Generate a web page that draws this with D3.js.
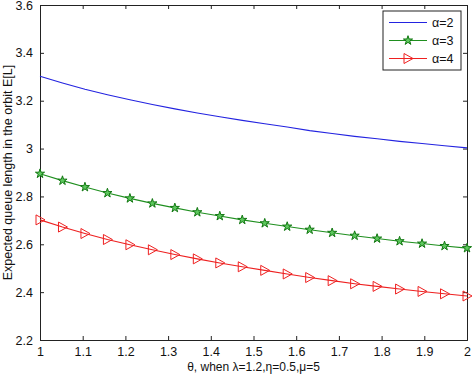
<!DOCTYPE html>
<html>
<head>
<meta charset="utf-8">
<script src="https://cdn.jsdelivr.net/npm/d3@7"></script>
<style>
  body { margin: 0; background: #fff; }
  text { font-family: "Liberation Sans", Arial, sans-serif; }
</style>
</head>
<body>
<div class="chart"></div>
<script>
// theta sampled at 20 points between 1 and 2
const theta = d3.range(20).map(k => 1 + k / 19)
const alpha2 = [3.302, 3.274, 3.248, 3.225, 3.204, 3.184, 3.166, 3.149, 3.133, 3.118,
                3.104, 3.090, 3.075, 3.063, 3.051, 3.041, 3.030, 3.021, 3.012, 3.003]
const alpha3 = [2.895, 2.866, 2.839, 2.814, 2.792, 2.771, 2.752, 2.734, 2.718, 2.702,
                2.688, 2.674, 2.661, 2.648, 2.636, 2.624, 2.613, 2.603, 2.593, 2.584]
const alpha4 = [2.702, 2.672, 2.645, 2.620, 2.598, 2.577, 2.557, 2.539, 2.522, 2.506,
                2.491, 2.476, 2.461, 2.448, 2.435, 2.424, 2.413, 2.403, 2.393, 2.384]
const x_ticks = [1, 1.1, 1.2, 1.3, 1.4, 1.5, 1.6, 1.7, 1.8, 1.9, 2]
const y_ticks = [2.2, 2.4, 2.6, 2.8, 3, 3.2, 3.4, 3.6]
const legend_labels = ["\u03b1=2", "\u03b1=3", "\u03b1=4"]

const width = 474, height = 375
const m = {left: 40, top: 5, right: 7, bottom: 35}
const svg = d3.select(".chart").append("svg").attr("width", width).attr("height", height)

const x_scale = d3.scaleLinear().domain([1, 2]).range([m.left, width - m.right])
const y_scale = d3.scaleLinear().domain([2.2, 3.6]).range([height - m.bottom, m.top])

const fmt = d => String(d)
// axes with inward ticks
svg.append("g").attr("transform", 'translate(0,' + (height - m.bottom) + ')')
    .call(d3.axisBottom(x_scale).tickValues(x_ticks).tickSize(-4).tickPadding(7).tickFormat(fmt))
svg.append("g").attr("transform", 'translate(0,' + m.top + ')')
    .call(d3.axisTop(x_scale).tickValues(x_ticks).tickSize(-4).tickFormat(""))
svg.append("g").attr("transform", 'translate(' + m.left + ',0)')
    .call(d3.axisLeft(y_scale).tickValues(y_ticks).tickSize(-4).tickPadding(7).tickFormat(fmt))
svg.append("g").attr("transform", 'translate(' + (width - m.right) + ',0)')
    .call(d3.axisRight(y_scale).tickValues(y_ticks).tickSize(-4).tickFormat(""))

svg.selectAll(".domain").attr("stroke", "#222")
svg.selectAll(".tick line").attr("stroke", "#222")
svg.selectAll(".tick text").attr("font-size", 12.5).attr("fill", "#111")
    .style("font-family", "'Liberation Sans', Arial, sans-serif")

const series = [
    {vals: alpha2, color: "#2323e0", marker: null},
    {vals: alpha3, color: "#1f8f1f", marker: "star"},
    {vals: alpha4, color: "#ee2020", marker: "tri"}
]

const line = d3.line().x(d => x_scale(d[0])).y(d => y_scale(d[1]))
const star = d3.symbol().type(d3.symbolStar).size(26)
const tri = "M-4,-5L5,0L-4,5Z"

function drawMarker(g, s, x, y) {
    if (s.marker == "star") {
        g.append("path").attr("d", star()).attr("transform", 'translate(' + x + ',' + y + ')')
            .attr("fill", "#5ec85e").attr("stroke", "#117711").attr("stroke-width", 1)
    } else if (s.marker == "tri") {
        g.append("path").attr("d", tri).attr("transform", 'translate(' + x + ',' + y + ')')
            .attr("fill", "none").attr("stroke", s.color).attr("stroke-width", 1)
    }
}

series.forEach(s => {
    const pts = theta.map((t, i) => [t, s.vals[i]])
    svg.append("path").datum(pts).attr("d", line)
        .attr("fill", "none").attr("stroke", s.color).attr("stroke-width", 1.1)
    const g = svg.append("g")
    pts.forEach(p => drawMarker(g, s, x_scale(p[0]), y_scale(p[1])))
})

// legend
const lg = svg.append("g")
lg.append("rect").attr("x", 383).attr("y", 11).attr("width", 78).attr("height", 59)
    .attr("fill", "#fff").attr("stroke", "#222").attr("stroke-width", 1)
series.forEach((s, i) => {
    const yy = 22.5 + i * 18
    lg.append("line").attr("x1", 389).attr("x2", 427).attr("y1", yy).attr("y2", yy)
        .attr("stroke", s.color).attr("stroke-width", 1.1)
    drawMarker(lg, s, 408, yy)
    lg.append("text").attr("x", 432).attr("y", yy + 4.5).attr("font-size", 12.5)
        .attr("fill", "#111").text(legend_labels[i])
})

// axis titles
svg.append("text").attr("x", (m.left + width - m.right) / 2).attr("y", 371)
    .attr("text-anchor", "middle").attr("font-size", 12).attr("fill", "#111")
    .text("\u03b8, when \u03bb=1.2,\u03b7=0.5,\u03bc=5")
svg.append("text").attr("transform", 'translate(12,' + ((m.top + height - m.bottom) / 2) + ') rotate(-90)')
    .attr("text-anchor", "middle").attr("font-size", 12.5).attr("fill", "#111")
    .text("Expected queue length in the orbit E[L]")
</script>
</body>
</html>
